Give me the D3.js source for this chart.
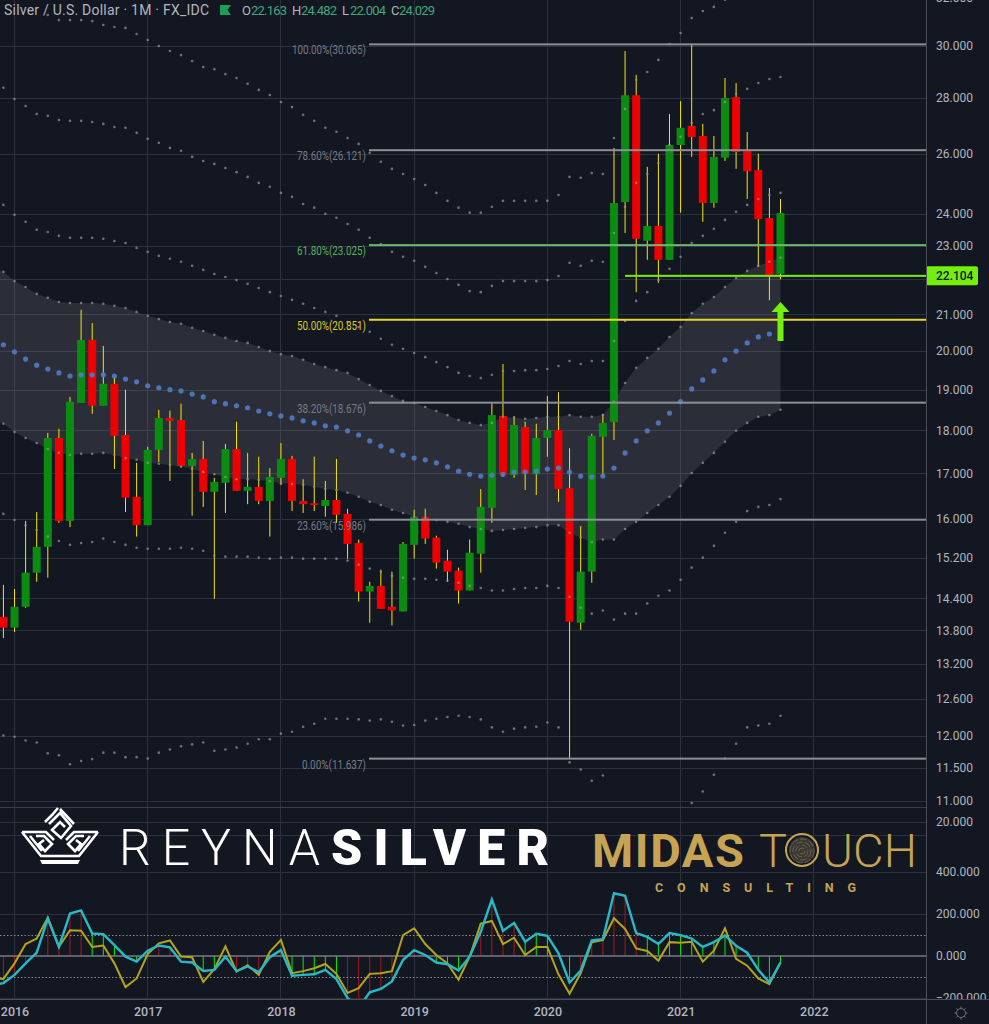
<!DOCTYPE html>
<html>
<head>
<meta charset="utf-8">
<script src="https://cdn.jsdelivr.net/npm/d3@7"></script>
<style>
html,body{margin:0;padding:0;background:#131722;overflow:hidden}
svg{display:block}
text{font-family:Roboto,sans-serif}
</style>
</head>
<body>
<svg id="c" width="989" height="1024"></svg>
<script>
// Monthly candles, Dec 2015 .. Oct 2021
const opens=[14.05,13.85,14.24,14.90,15.42,17.82,15.96,18.67,20.30,18.60,19.15,17.89,16.48,15.87,17.54,18.30,18.25,17.17,17.33,16.59,16.79,17.56,16.61,16.70,16.39,16.90,17.33,16.39,16.34,16.28,16.41,16.11,15.50,14.53,14.64,14.24,14.15,15.46,16.05,15.61,15.14,14.94,14.55,15.28,16.24,18.35,16.96,18.08,16.98,17.82,18.01,16.67,13.94,14.92,17.85,18.20,24.38,28.10,23.16,23.62,22.58,26.30,26.98,26.62,24.35,25.86,28.03,26.09,25.44,23.87,22.163];
const highs=[14.66,14.58,15.96,16.15,17.94,18.04,18.82,21.13,20.76,20.14,19.32,19.00,17.24,17.61,18.50,18.48,18.65,17.47,17.75,16.90,17.68,18.21,17.47,17.38,17.12,17.70,17.40,16.87,17.38,16.83,17.33,16.22,15.57,14.72,14.96,14.92,15.52,16.20,16.22,15.65,15.36,15.00,15.57,16.65,18.67,19.66,18.35,18.21,18.16,18.84,18.94,17.58,15.85,17.92,18.40,26.20,29.80,28.87,25.55,26.00,27.41,27.88,30.07,27.05,26.62,28.75,28.56,26.76,26.00,24.84,24.482];
const lows=[13.66,13.77,14.22,14.72,14.80,15.92,15.83,18.67,18.40,18.60,17.10,16.15,15.63,15.87,17.26,16.83,17.15,16.07,16.26,14.39,16.13,16.61,16.32,16.32,15.63,16.74,16.17,16.13,16.17,16.05,15.92,15.18,14.34,13.94,14.20,13.89,14.15,15.18,15.48,14.98,14.72,14.30,14.55,14.90,15.92,16.92,16.90,16.63,16.52,17.38,16.37,11.64,13.81,14.70,16.92,17.77,23.40,21.63,22.58,21.90,22.58,24.04,25.89,23.75,24.20,25.75,25.48,24.48,22.37,21.40,22.004];
const closes=[13.85,14.24,14.90,15.42,17.82,15.96,18.70,20.30,18.60,19.15,17.87,16.46,15.87,17.54,18.30,18.23,17.17,17.33,16.59,16.81,17.56,16.61,16.70,16.39,16.92,17.33,16.39,16.32,16.30,16.41,16.09,15.48,14.53,14.64,14.20,14.17,15.48,16.05,15.59,15.10,14.92,14.55,15.30,16.26,18.37,16.98,18.13,17.00,17.82,18.01,16.65,13.96,14.92,17.87,18.18,24.35,28.10,23.22,23.62,22.58,26.30,26.91,26.58,24.35,25.89,28.00,26.06,25.40,23.84,22.10,24.029];

// Dotted envelope series
const up4=[null,null,null,null,31.26,31.05,31.05,31.05,31.01,30.85,30.77,30.73,30.48,30.24,30.00,29.80,29.64,29.41,29.17,29.09,28.90,28.75,28.53,28.30,28.11,27.85,27.66,27.38,27.16,26.91,26.77,26.55,26.34,26.03,25.72,25.48,25.31,25.14,24.94,24.68,24.42,24.20,24.04,24.04,24.23,24.42,24.42,24.42,24.42,24.42,24.61,25.21,25.18,25.34,25.31,26.55,27.59,28.68,28.98,29.45,30.08,30.52,31.14,31.43,31.60,31.90];
const up3=[28.38,27.96,27.70,27.41,27.34,27.19,27.16,27.16,27.12,27.05,26.94,26.91,26.73,26.52,26.38,26.20,26.10,25.89,25.75,25.65,25.51,25.37,25.21,25.01,24.88,24.68,24.55,24.32,24.20,24.00,23.88,23.68,23.50,23.25,23.06,22.82,22.67,22.55,22.37,22.19,22.01,21.84,21.66,21.63,21.81,21.95,21.95,21.95,21.95,21.98,22.10,22.49,22.40,22.55,22.52,23.40,24.23,25.01,25.31,25.68,26.31,26.59,27.09,27.41,27.55,27.85,28.15,28.34,28.56,28.71,28.79];
const up2=[24.29,23.97,23.75,23.50,23.43,23.31,23.25,23.25,23.25,23.22,23.15,23.09,22.94,22.82,22.70,22.61,22.52,22.40,22.28,22.16,22.07,21.98,21.87,21.75,21.63,21.52,21.41,21.30,21.18,21.07,20.96,20.79,20.65,20.52,20.33,20.17,20.06,19.95,19.84,19.71,19.58,19.43,19.35,19.30,19.38,19.48,19.48,19.50,19.50,19.53,19.61,19.74,19.66,19.74,19.74,20.27,20.82,21.38,21.63,21.98,22.31,22.67,23.09,23.31,23.53,23.81,24.07,24.29,24.48,24.61,24.68];
const up1=[22.22,21.95,21.78,21.58,21.47,21.35,21.32,21.32,21.32,21.30,21.24,21.18,21.07,20.96,20.87,20.79,20.74,20.63,20.54,20.44,20.36,20.27,20.22,20.11,20.00,19.92,19.87,19.77,19.66,19.58,19.50,19.43,19.27,19.12,18.97,18.84,18.72,18.67,18.57,18.47,18.37,18.25,18.18,18.13,18.18,18.33,18.30,18.28,18.30,18.33,18.33,18.37,18.33,18.33,18.37,18.70,19.17,19.56,19.82,20.06,20.38,20.65,21.04,21.30,21.49,21.78,22.04,22.25,22.40,22.52,22.64];
const mid=[20.17,19.98,19.79,19.63,19.53,19.43,19.35,19.38,19.38,19.38,19.35,19.27,19.20,19.10,19.05,19.00,18.97,18.89,18.82,18.70,18.65,18.60,18.55,18.47,18.40,18.35,18.30,18.23,18.18,18.11,18.08,17.99,17.89,17.75,17.63,17.52,17.42,17.35,17.31,17.24,17.15,17.05,16.98,16.94,16.96,16.98,17.03,17.03,17.05,17.10,17.12,17.03,16.94,16.92,16.94,17.12,17.47,17.75,17.99,18.18,18.42,18.70,19.02,19.25,19.48,19.77,20.00,20.22,20.38,20.46];
const lo1=[18.16,17.96,17.82,17.70,17.56,17.47,17.42,17.45,17.45,17.47,17.42,17.35,17.31,17.24,17.22,17.19,17.15,17.10,17.03,16.98,16.92,16.87,16.87,16.85,16.83,16.78,16.76,16.74,16.70,16.65,16.63,16.57,16.48,16.37,16.30,16.20,16.13,16.05,16.03,15.98,15.94,15.90,15.83,15.79,15.75,15.77,15.79,15.81,15.83,15.87,15.87,15.71,15.61,15.52,15.57,15.57,15.79,15.94,16.13,16.30,16.48,16.72,17.01,17.24,17.47,17.73,17.99,18.18,18.33,18.37,18.50];
const lo2=[16.11,15.98,15.87,15.77,15.63,15.54,15.46,15.50,15.52,15.59,15.52,15.46,15.40,15.38,15.38,15.38,15.40,15.38,15.34,15.24,15.22,15.22,15.22,15.20,15.18,15.20,15.20,15.18,15.18,15.18,15.18,15.14,15.06,14.98,14.92,14.84,14.80,14.78,14.78,14.76,14.74,14.70,14.64,14.60,14.55,14.55,14.58,14.60,14.60,14.64,14.60,14.43,14.22,14.11,14.17,14.00,14.11,14.11,14.30,14.45,14.55,14.76,15.00,15.20,15.44,15.71,15.94,16.17,16.26,16.30,16.43];
const lo3=[12.00,11.98,11.92,11.89,11.72,11.69,11.55,11.60,11.63,11.73,11.73,11.66,11.66,11.64,11.73,11.78,11.83,11.86,11.89,11.76,11.78,11.81,11.87,11.94,11.94,12.03,12.06,12.14,12.19,12.27,12.27,12.27,12.26,12.24,12.26,12.22,12.16,12.17,12.24,12.27,12.30,12.32,12.30,12.26,12.13,12.06,12.11,12.13,12.14,12.21,12.13,11.58,11.47,11.30,11.38,null,null,null,null,null,null,null,10.97,11.14,11.39,11.64,11.87,12.13,12.16,12.19,12.32];
// Band values one month before the first candle, at the left edge
const up1Nov=22.36,lo1Nov=18.26,fastNov=-140,slowNov=-108;

// Lower-pane oscillator
const cciFast=[-129,-90,-35,16,178,44,202,217,107,104,52,-3,-27,25,50,41,-27,-31,-71,-66,-3,-72,-50,-77,-6,28,-94,-90,-87,-66,-110,-200,-247,-173,-157,-121,-19,28,5,-31,-39,-69,-3,115,269,120,157,68,106,96,13,-126,-69,74,80,299,287,109,91,57,109,99,83,43,66,98,49,16,-66,-126,-31];
const cciSlow=[-109,-35,57,83,183,44,123,120,43,50,-35,-148,-107,9,60,74,-3,-6,-123,-63,46,-74,-44,-90,20,77,-82,-72,-58,-38,-85,-176,-153,-85,-82,-72,99,132,57,5,-35,-113,-3,154,167,57,87,5,43,43,-87,-180,-82,65,76,180,129,36,24,-22,66,63,68,-27,25,132,-14,-46,-107,-134,-31];
const cciColor="rrrrrrrrggggggrrrrgggrrrrrgggggrrrrrrrrggggrrrrgggggrrrrrrgggggggggggggg".split("");

// Levels and ticks
const fibLevels=[
 {pct:"100.00%",price:30.065,kind:"gray"},
 {pct:"78.60%",price:26.121,kind:"gray"},
 {pct:"61.80%",price:23.025,kind:"green"},
 {pct:"50.00%",price:20.851,kind:"yellow"},
 {pct:"38.20%",price:18.676,kind:"gray"},
 {pct:"23.60%",price:15.986,kind:"gray"},
 {pct:"0.00%",price:11.637,kind:"gray"}];
const supportPrice=22.104;
const priceTicks=[32,30,28,26,24,23,22,21,20,19,18,17,16,15.2,14.4,13.8,13.2,12.6,12,11.5,11];
const cciTicks=[400,200,0,-200];
const cciGuides=[100,-100];
const volTicks=[20];
const yearTicks=["2016-01","2017-01","2018-01","2019-01","2020-01","2021-01","2022-01"];
const allMonths=d3.utcMonths(new Date(Date.UTC(2015,10,1)),new Date(Date.UTC(2022,1,1))).map(d3.utcFormat("%Y-%m"));
const months=allMonths.slice(1);
const candles=months.slice(0,71).map((m,i)=>({m,o:opens[i],h:highs[i],l:lows[i],c:closes[i]}));

// Scales
const step=799.3/72;
const x=d3.scalePoint().domain(allMonths).range([14.5-2*step,813.8]);
const y=d3.scaleLog().domain([11,30]).range([801,46]);
const yCci=d3.scaleLinear().domain([0,400]).range([956,872]);
const yVol=d3.scaleLinear().domain([20,0]).range([822,835]);

const svg=d3.select("#c");
const BG="#131722",GRID="#2d313f",TXT="#b2b5be",AXIS="#4c4f5a";
const R=926,MAINB=807,CT=835,CB=999;
const defs=svg.append("defs");
defs.append("clipPath").attr("id","mainClip").append("rect").attr("x",0).attr("y",0).attr("width",R).attr("height",MAINB);
defs.append("clipPath").attr("id","cciClip").append("rect").attr("x",0).attr("y",CT).attr("width",R).attr("height",CB-CT);
defs.append("clipPath").attr("id","axClip").append("rect").attr("x",R).attr("y",0).attr("width",63).attr("height",CB);

svg.append("rect").attr("width",989).attr("height",1024).attr("fill",BG);

// Grid
const grid=svg.append("g");
const snap=v=>Math.round(v)+0.5;
grid.selectAll(".hp").data(priceTicks).join("line").attr("x1",0).attr("x2",R).attr("y1",d=>snap(y(d))).attr("y2",d=>snap(y(d))).attr("stroke",GRID);
grid.selectAll(".hv").data(volTicks).join("line").attr("x1",0).attr("x2",R).attr("y1",d=>snap(yVol(d))).attr("y2",d=>snap(yVol(d))).attr("stroke",GRID);
grid.append("line").attr("x1",0).attr("x2",R).attr("y1",835.5).attr("y2",835.5).attr("stroke",GRID);
grid.selectAll(".hc").data(cciTicks.filter(d=>d!==0)).join("line").attr("x1",0).attr("x2",R).attr("y1",d=>snap(yCci(d))).attr("y2",d=>snap(yCci(d))).attr("stroke",GRID);
grid.selectAll(".vt").data(yearTicks).join("line").attr("x1",d=>Math.floor(x(d))+.5).attr("x2",d=>Math.floor(x(d))+.5).attr("y1",0).attr("y2",CB).attr("stroke",GRID);
grid.append("line").attr("x1",0).attr("x2",R).attr("y1",807.5).attr("y2",807.5).attr("stroke","#3a3e4c");

// Main pane
const main=svg.append("g").attr("clip-path","url(#mainClip)");
const bandMonths=allMonths.slice(0,72);
const bandUp=[up1Nov].concat(up1), bandLo=[lo1Nov].concat(lo1);
const band=d3.area().x(d=>x(d)).y0((d,i)=>y(bandLo[i])).y1((d,i)=>y(bandUp[i]));
main.append("path").datum(bandMonths).attr("d",band).attr("fill","rgb(120,123,134)").attr("fill-opacity",.24);

// Candles
const cg=main.append("g");
const cOf=d=>d.c>=d.o?"#0b8c10":"#ee0000";
cg.selectAll(".w").data(candles).join("rect").attr("x",d=>x(d.m)-.5).attr("width",1).attr("y",d=>y(d.h)).attr("height",d=>y(d.l)-y(d.h)).attr("fill","#f5e600");
cg.selectAll(".b").data(candles).join("rect").attr("x",d=>x(d.m)-4).attr("width",8).attr("y",d=>y(Math.max(d.o,d.c))).attr("height",d=>Math.max(1,Math.abs(y(d.o)-y(d.c)))).attr("fill",cOf);

// Dots
function dots(arr,r,fill,op){
  main.append("g").selectAll("circle").data(arr.map((v,i)=>({v,m:months[i]})).filter(d=>d.v!=null)).join("circle")
   .attr("cx",d=>x(d.m)).attr("cy",d=>y(d.v)).attr("r",r).attr("fill",fill).attr("fill-opacity",op);
}
[up4,up3,up2,up1,lo1,lo2,lo3].forEach(a=>dots(a,1.3,"#8f929c",.75));
dots(mid,2.6,"#4f7bc4",.9);

// Fibonacci levels
const fibColor={gray:"#8d8f96",green:"#6fb572",yellow:"#e6d72a"};
const fibText={gray:"#787b86",green:"#5cae60",yellow:"#dccb2a"};
const FX=369;
main.selectAll(".fl").data(fibLevels).join("rect").attr("x",FX).attr("width",R-FX).attr("y",d=>y(d.price)-1).attr("height",2).attr("fill",d=>fibColor[d.kind]);
main.selectAll(".ft").data(fibLevels).join("text").attr("x",366).attr("y",d=>y(d.price)+10).attr("text-anchor","end")
  .attr("font-size",12).attr("fill",d=>fibText[d.kind]).attr("textLength",d=>(d.pct.length+8)*4.93).attr("lengthAdjust","spacingAndGlyphs").text(d=>d.pct+"("+d.price.toFixed(3)+")");

// Support line and arrow
const LIME="#74ee0c";
main.append("rect").attr("x",x("2020-08")).attr("width",R-x("2020-08")).attr("y",y(supportPrice)-1).attr("height",2).attr("fill",LIME);
const ax=x("2021-10");
main.append("path").attr("d",`M${ax-3} 341V312H${ax-9}L${ax} 302L${ax+9} 312H${ax+3}V341Z`).attr("fill",LIME);

// Price axis
const axisG=svg.append("g").attr("clip-path","url(#axClip)").append("g").attr("transform",`translate(${R},0)`)
  .call(d3.axisRight(y).tickValues(priceTicks.filter(d=>d!==22)).tickFormat(d3.format(".3f")).tickSize(0).tickPadding(10));
axisG.select(".domain").remove();
axisG.selectAll("text").attr("font-size",12).attr("fill",TXT).attr("font-family","Roboto");
const volAxis=svg.append("g").attr("transform",`translate(${R},0)`).call(d3.axisRight(yVol).tickValues(volTicks).tickFormat(d3.format(".3f")).tickSize(0).tickPadding(10));
volAxis.select(".domain").remove();
volAxis.selectAll("text").attr("font-size",12).attr("fill",TXT).attr("font-family","Roboto");
const cciAxis=svg.append("g").attr("clip-path","url(#axClip)").append("g").attr("transform",`translate(${R},0)`).call(d3.axisRight(yCci).tickValues(cciTicks).tickFormat(d=>d3.format(".3f")(d).replace("-","−")).tickSize(0).tickPadding(10));
cciAxis.select(".domain").remove();
cciAxis.selectAll("text").attr("font-size",12).attr("fill",TXT).attr("font-family","Roboto");

// Price tag
svg.append("rect").attr("x",R).attr("y",y(supportPrice)-9.5).attr("width",52).attr("height",19).attr("rx",2).attr("fill",LIME);
svg.append("text").attr("x",936).attr("y",y(supportPrice)+4.5).attr("font-size",12).attr("font-weight",500).attr("fill","#131722").text(supportPrice.toFixed(3));

// CCI pane
const cci=svg.append("g").attr("clip-path","url(#cciClip)");
cci.selectAll(".hist").data(cciFast).join("rect").attr("x",(d,i)=>x(months[i])-.5).attr("width",1)
  .attr("y",d=>Math.min(yCci(d),yCci(0))).attr("height",d=>Math.abs(yCci(d)-yCci(0)))
  .attr("fill",(d,i)=>cciColor[i]==="g"?"#00f000":"#a8181c");
cci.selectAll(".guide").data(cciGuides).join("line").attr("x1",0).attr("x2",R).attr("y1",d=>snap(yCci(d))).attr("y2",d=>snap(yCci(d))).attr("stroke","#8a8c94").attr("stroke-dasharray","1.5 2");
cci.append("line").attr("x1",0).attr("x2",R).attr("y1",yCci(0)).attr("y2",yCci(0)).attr("stroke","#787b86").attr("stroke-width",1.6);
const lnMonths=allMonths.slice(0,72);
const ln=d3.line().x((d,i)=>x(lnMonths[i])).y(d=>yCci(d));
cci.append("path").attr("d",ln([slowNov].concat(cciSlow))).attr("fill","none").attr("stroke","#b3a41a").attr("stroke-width",2);
cci.append("path").attr("d",ln([fastNov].concat(cciFast))).attr("fill","none").attr("stroke","#27b9c6").attr("stroke-width",2.4);

// Axes frame
svg.append("line").attr("x1",R+.5).attr("x2",R+.5).attr("y1",0).attr("y2",1024).attr("stroke",AXIS);
svg.append("line").attr("x1",0).attr("x2",989).attr("y1",999.5).attr("y2",999.5).attr("stroke",AXIS);

// Time axis
const tAxis=svg.append("g").attr("transform","translate(0,999)").call(d3.axisBottom(x).tickValues(yearTicks).tickFormat(d=>d.slice(0,4)).tickSize(0).tickPadding(8));
tAxis.select(".domain").remove();
tAxis.selectAll("text").attr("font-size",12.5).attr("font-weight",500).attr("fill",TXT).attr("font-family","Roboto");

// Gear
const gear=svg.append("g").attr("transform","translate(961,1013)").attr("fill","none").attr("stroke","#6d7080");
gear.append("circle").attr("r",4.5);
d3.range(8).forEach(k=>{const a=k*Math.PI/4;gear.append("line").attr("x1",4.5*Math.cos(a)).attr("y1",4.5*Math.sin(a)).attr("x2",6.5*Math.cos(a)).attr("y2",6.5*Math.sin(a));});

// Header
const hdr=svg.append("g");
hdr.append("text").attr("x",4).attr("y",15).attr("font-size",14).attr("fill",TXT).attr("textLength",205).text("Silver / U.S. Dollar · 1M · FX_IDC");
hdr.append("path").attr("d","M220 5H231L227.5 10L231 15H220Z").attr("fill","#1f9d55");
const ohlc=[["O",242,"22.163",251],["H",292,"24.482",301],["L",342,"22.004",350],["C",391,"24.029",399]];
ohlc.forEach(d=>{
  hdr.append("text").attr("x",d[1]).attr("y",15).attr("font-size",13).attr("fill",TXT).text(d[0]);
  hdr.append("text").attr("x",d[3]).attr("y",15).attr("font-size",13).attr("fill","#3fa77a").attr("textLength",36).text(d[2]);
});

// Logos
const logo=svg.append("g");
const emb=logo.append("g").attr("fill","none").attr("stroke","#ffffff").attr("stroke-width",2.6);
emb.append("path").attr("d","M22 832H46L54 840M98 832H74L66 840M22 832L41 856H79L98 832");
emb.append("path").attr("d","M30 836L42 851M36 836H44L52 844L45 851L39 844L44 840");
emb.append("path").attr("d","M90 836L78 851M84 836H76L68 844L75 851L81 844L76 840");
emb.append("path").attr("d","M60 809L74 824M49 824L60 813L71 826L61 838L52 830L60 822L65 827");
emb.append("path").attr("d","M58 808L52 815L45 822");
logo.append("path").attr("d","M40 860H80L78 864H42Z").attr("fill","#fff");
logo.append("text").attr("x",119).attr("y",865).attr("font-family","Lato").attr("font-weight",300).attr("font-size",50).attr("fill","#fff").attr("textLength",201).attr("lengthAdjust","spacing").text("REYNA");
logo.append("text").attr("x",331).attr("y",865).attr("font-family","Lato").attr("font-weight",900).attr("font-size",50).attr("fill","#fff").attr("textLength",218).attr("lengthAdjust","spacing").text("SILVER");
const GOLD="#c6a453";
logo.append("text").attr("x",592).attr("y",867).attr("font-family","Lato").attr("font-weight",700).attr("font-size",47).attr("fill",GOLD).attr("textLength",152).attr("lengthAdjust","spacing").text("MIDAS");
logo.append("text").attr("x",759).attr("y",867).attr("font-family","Lato").attr("font-weight",300).attr("font-size",47).attr("fill",GOLD).attr("textLength",27).text("T");
logo.append("text").attr("x",822).attr("y",867).attr("font-family","Lato").attr("font-weight",300).attr("font-size",47).attr("fill",GOLD).attr("textLength",95).attr("lengthAdjust","spacing").text("UCH");
logo.append("circle").attr("cx",802).attr("cy",850).attr("r",16).attr("fill","none").attr("stroke",GOLD).attr("stroke-width",2);
logo.append("circle").attr("cx",802).attr("cy",850).attr("r",13).attr("fill","#3a3834");
[3,6,9,12].forEach(r=>logo.append("circle").attr("cx",802).attr("cy",851).attr("r",r).attr("fill","none").attr("stroke","#7a6f4f").attr("stroke-width",.8).attr("stroke-dasharray","7 2"));
logo.append("text").attr("x",655).attr("y",892).attr("font-family","Lato").attr("font-weight",700).attr("font-size",12.5).attr("fill",GOLD).attr("textLength",201).attr("lengthAdjust","spacing").text("CONSULTING");
</script>
</body>
</html>
